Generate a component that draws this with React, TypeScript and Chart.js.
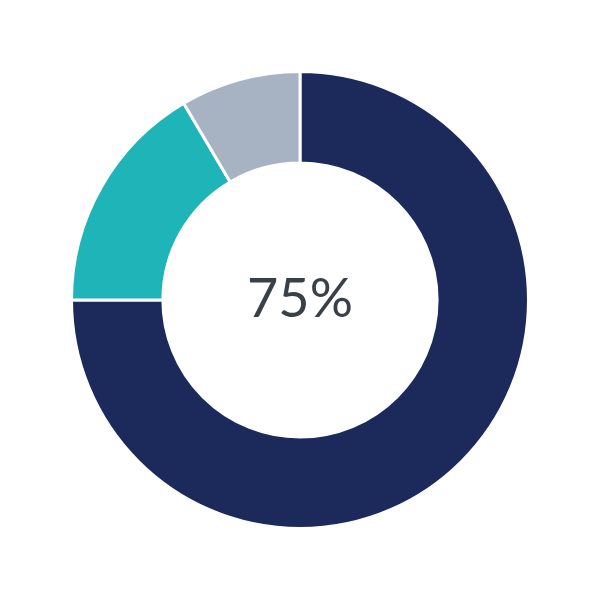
import React, { useEffect, useRef } from "react";
import { Chart, registerables } from "chart.js";

Chart.register(...registerables);

const labels = ["Primary", "Secondary", "Other"];
const values = [75, 16.5, 8.5];
const colors = ["#1b2a5a", "#1fb5b8", "#a7b3c2"];
const centerLabel = "75%";

const centerText = {
  id: "centerText",
  afterDraw(chart: any) {
    const { ctx, chartArea } = chart;
    const cx = (chartArea.left + chartArea.right) / 2;
    const cy = (chartArea.top + chartArea.bottom) / 2;
    ctx.save();
    ctx.font = "54px Lato";
    ctx.fillStyle = "#3a4048";
    ctx.textAlign = "center";
    ctx.textBaseline = "middle";
    ctx.fillText(centerLabel, cx, cy);
    ctx.restore();
  },
};

export default function App() {
  const ref = useRef<HTMLCanvasElement>(null);
  useEffect(() => {
    if (!ref.current) return;
    const chart = new Chart(ref.current, {
      type: "doughnut",
      data: {
        labels,
        datasets: [
          {
            data: values,
            backgroundColor: colors,
            borderColor: "#ffffff",
            borderWidth: 3,
          },
        ],
      },
      options: {
        animation: false,
        responsive: true,
        maintainAspectRatio: false,
        cutout: "60%",
        layout: { padding: 70 },
        plugins: {
          legend: { display: false },
          tooltip: { enabled: false },
        },
      },
      plugins: [centerText],
    });
    return () => chart.destroy();
  }, []);
  return (
    <div style={{ position: "fixed", left: 0, top: 0, width: 600, height: 600, background: "#fff" }}>
      <canvas ref={ref} />
    </div>
  );
}
